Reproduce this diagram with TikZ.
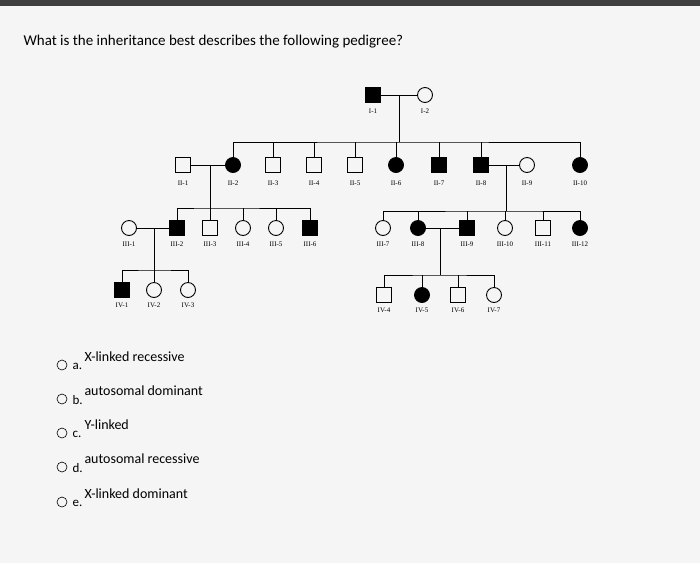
\documentclass[tikz,border=0pt]{standalone}
\usepackage{fontspec}
\setmainfont{Carlito}
\newfontfamily\serifl{Liberation Serif}
\begin{document}
\begin{tikzpicture}[x=1pt,y=-1pt,
  m/.style={draw,line width=0.9pt,minimum size=15pt,inner sep=0pt,rectangle},
  f/.style={draw,line width=0.9pt,minimum size=15pt,inner sep=0pt,circle},
  M/.style={m,fill=black},
  F/.style={f,fill=black},
  lab/.style={font=\serifl\fontsize{7}{8}\selectfont},
  ln/.style={line width=0.9pt},
  opt/.style={draw,circle,minimum size=10pt,inner sep=0pt,line width=0.6pt},
  otxt/.style={anchor=west,font=\fontsize{14}{16}\selectfont}]
\useasboundingbox (0,0) rectangle (700,563);
\fill[gray!8] (0,0) rectangle (700,563);
\fill[black!75] (0,0) rectangle (700,6);
\node[anchor=west,font=\fontsize{15}{18}\selectfont] (title) at (20,42) {What is the inheritance best describes the following pedigree?};
% Gen I
\node[M] (I1) at (373,95) {}; \node[f] (I2) at (425,95) {};
% Gen II
\foreach \n/\x/\s in {1/183/m,2/233/F,3/273/m,4/314/m,5/355/m,6/396/F,7/439/M,8/481/M,9/527/f,10/580/F}
  {\node[\s] (II\n) at (\x,165) {}; \node[lab] (lII\n) at (\x,183) {II-\n};}
% Gen III
\foreach \n/\x/\s in {1/129/f,2/177/M,3/210/m,4/243/f,5/276/f,6/310/M,7/383/f,8/418/F,9/467/M,10/505/f,11/543/m,12/580/F}
  {\node[\s] (III\n) at (\x,228) {}; \node[lab] (lIII\n) at (\x,244) {III-\n};}
% Gen IV
\foreach \n/\x/\y/\s in {1/122/290/M,2/154/290/f,3/188/290/f,4/384/295/m,5/422/295/F,6/458/295/m,7/494/295/f}
  {\node[\s] (IV\n) at (\x,\y) {}; \node[lab] (lIV\n) at (\x,\y+15) {IV-\n};}
\node[lab] (lI1) at (373,111) {I-1}; \node[lab] (lI2) at (425,111) {I-2};
% connectors
\draw[ln] (I1) -- (I2);
\coordinate (dI) at (399,95); \coordinate (sI) at (399,142);
\draw[ln] (dI) -- (sI);
\draw[ln] (II2.north) |- (sI) -| (II10.north);
\foreach \n in {3,4,5,6,7,8} {\draw[ln] (II\n.north) -- (II\n.north |- sI);}
\draw[ln] (II1) -- (II2); \draw[ln] (II8) -- (II9);
\coordinate (dA) at (210,165); \coordinate (sA) at (210,208);
\draw[ln] (dA) -- (sA);
\draw[ln] (III2.north) |- (sA) -| (III6.north);
\foreach \n in {3,4,5} {\draw[ln] (III\n.north) -- (III\n.north |- sA);}
\coordinate (dB) at (506,165); \coordinate (sB) at (506,211);
\draw[ln] (dB) -- (sB);
\draw[ln] (III7.north) |- (sB) -| (III12.north);
\foreach \n in {8,9,10,11} {\draw[ln] (III\n.north) -- (III\n.north |- sB);}
\draw[ln] (III1) -- (III2); \draw[ln] (III8) -- (III9);
\coordinate (dC) at (154,228); \coordinate (sC) at (154,270);
\draw[ln] (dC) -- (sC);
\draw[ln] (IV1.north) |- (sC) -| (IV3.north);
\draw[ln] (IV2.north) -- (sC);
\coordinate (dD) at (440,228); \coordinate (sD) at (440,275);
\draw[ln] (dD) -- (sD);
\draw[ln] (IV4.north) |- (sD) -| (IV7.north);
\foreach \n in {5,6} {\draw[ln] (IV\n.north) -- (IV\n.north |- sD);}
% options
\foreach \k/\l/\t/\y in {a/a./X-linked recessive/365,b/b./autosomal dominant/399,c/c./Y-linked/433,d/d./autosomal recessive/467,e/e./X-linked dominant/502}
 {\node[opt] (o\k) at (62,\y) {};
  \node[anchor=west,font=\fontsize{13}{15}\selectfont] (l\k) at (69,\y+1) {\l};
  \node[otxt] (t\k) at (81,\y-8) {\t};}
\end{tikzpicture}
\end{document}
